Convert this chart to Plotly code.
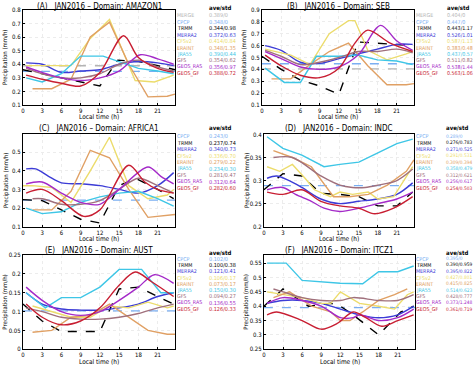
import plotly.graph_objects as go

W, H_PX = 474, 366
FONT = "Liberation Sans Narrow, DejaVu Sans Condensed, Arial Narrow, Arial"

SERIES = ["MERGE", "CPCP", "TRMM", "MERRA2", "CFSv2", "ERAINT", "JRA55", "GFS", "GEOS_RAS", "GEOS_GF"]
COLORS = {"MERGE": "#b4b4b4", "CPCP": "#7aaef2", "TRMM": "#000000", "MERRA2": "#3c3cd6",
          "CFSv2": "#ecdc6c", "ERAINT": "#e0a064", "JRA55": "#3ec6e6", "GFS": "#a0707c",
          "GEOS_RAS": "#a42ac8", "GEOS_GF": "#c81e32"}
LINEAR = {"TRMM", "CFSv2", "ERAINT", "JRA55"}
HX = [0.5, 3, 6, 9, 12, 15, 18, 21, 23.5]
X_TICKS = [0, 3, 6, 9, 12, 15, 18, 21]
X_RANGE = [0, 23.75]

# ---------------- Panel A: AMAZON1 ----------------
A_TITLE = "(A)   JAN2016 \u2013 Domain: AMAZON1"
A_MEAN = {"MERGE": 0.389, "CPCP": 0.348}
A_X = {"TRMM": [0, 3, 6, 9, 12, 14.8, 18, 21, 23.7],
       "MERRA2": HX,
       "CFSv2": [0.5, 4.5, 7.5, 10.5, 13.5, 17.5, 20.5, 23.5],
       "ERAINT": [1.5, 4.5, 7.5, 10.5, 13.5, 16.5, 19.5, 22.5, 23.7],
       "JRA55": [0.5, 3, 6, 9, 12.5, 15, 18, 21, 23.5],
       "GFS": HX,
       "GEOS_RAS": [0.5, 3, 6, 9, 12, 15, 18.3, 21, 23.5],
       "GEOS_GF": [0.5, 3, 6, 9, 12, 15.7, 18, 21, 23.5]}
A_Y = {"TRMM": [0.36, 0.33, 0.30, 0.27, 0.24, 0.43, 0.42, 0.39, 0.36],
       "MERRA2": [0.41, 0.40, 0.34, 0.35, 0.36, 0.40, 0.42, 0.41, 0.39],
       "CFSv2": [0.39, 0.39, 0.39, 0.59, 0.73, 0.28, 0.27, 0.32],
       "ERAINT": [0.22, 0.22, 0.29, 0.60, 0.71, 0.40, 0.16, 0.165, 0.18],
       "JRA55": [0.30, 0.27, 0.33, 0.46, 0.46, 0.42, 0.37, 0.35, 0.33],
       "GFS": [0.37, 0.33, 0.30, 0.30, 0.33, 0.40, 0.43, 0.38, 0.35],
       "GEOS_RAS": [0.38, 0.34, 0.30, 0.28, 0.30, 0.35, 0.47, 0.44, 0.40],
       "GEOS_GF": [0.32, 0.29, 0.26, 0.24, 0.34, 0.61, 0.45, 0.37, 0.34]}
A_STATS = ["0.389/0", "0.348/0", "0.344/0.98", "0.372/0.63", "0.414/0.84", "0.348/1.35",
           "0.390/0.44", "0.354/0.62", "0.356/0.97", "0.388/0.72"]

# ---------------- Panel B: SEB ----------------
B_TITLE = "(B)   JAN2016 \u2013 Domain: SEB"
B_MEAN = {"MERGE": 0.404, "CPCP": 0.447}
B_X = {"TRMM": [0, 3, 6, 9, 12, 15, 18, 21, 23.5],
       "MERRA2": HX,
       "CFSv2": [0.5, 4.5, 7.5, 10.5, 13.5, 14.5, 16.5, 19.5, 22.5, 23.5],
       "ERAINT": [1.5, 4.5, 7.5, 10.5, 13.5, 16.5, 19.5, 22.5, 23.7],
       "JRA55": [0.5, 3.5, 6, 8.5, 12, 15, 18, 21, 23.5],
       "GFS": HX,
       "GEOS_RAS": [0.5, 3, 6, 9, 12, 15, 18.5, 21, 23.5],
       "GEOS_GF": [0.5, 3, 6, 9, 12, 14.5, 16.5, 20, 23.5]}
B_Y = {"TRMM": [0.51, 0.40, 0.31, 0.26, 0.19, 0.63, 0.62, 0.61, 0.60],
       "MERRA2": [0.60, 0.56, 0.46, 0.45, 0.49, 0.53, 0.57, 0.61, 0.61],
       "CFSv2": [0.57, 0.52, 0.44, 0.70, 0.81, 0.81, 0.56, 0.48, 0.53, 0.55],
       "ERAINT": [0.32, 0.32, 0.44, 0.55, 0.62, 0.43, 0.27, 0.27, 0.28],
       "JRA55": [0.41, 0.29, 0.29, 0.51, 0.51, 0.52, 0.48, 0.47, 0.44],
       "GFS": [0.56, 0.51, 0.44, 0.46, 0.50, 0.55, 0.55, 0.57, 0.54],
       "GEOS_RAS": [0.55, 0.49, 0.42, 0.40, 0.42, 0.52, 0.77, 0.64, 0.56],
       "GEOS_GF": [0.52, 0.43, 0.35, 0.33, 0.41, 0.62, 0.73, 0.62, 0.55]}
B_STATS = ["0.404/0", "0.447/0", "0.443/1.17", "0.526/1.01", "0.587/1.13", "0.383/0.48",
           "0.437/0.57", "0.511/0.82", "0.538/1.44", "0.563/1.06"]

# ---------------- Panel C: AFRICA1 ----------------
C_TITLE = "(C)   JAN2016 \u2013 Domain: AFRICA1"
C_MEAN = {"CPCP": 0.243}
C_X = {"TRMM": [0, 3, 6, 9, 12, 15, 17.5, 21, 23.5],
       "MERRA2": [0.5, 2, 4, 6, 9, 12, 15, 18, 21, 23.5],
       "CFSv2": [0, 1.5, 4.5, 7.5, 10.5, 13.5, 16.5, 19.5, 22.5, 23.5],
       "ERAINT": [1.5, 4.5, 7.5, 10.5, 13.5, 16.5, 19.5, 22.5, 23.7],
       "JRA55": HX,
       "GFS": [1.5, 3, 6, 9, 12, 15, 18, 21, 23.5],
       "GEOS_RAS": [0.5, 3, 6, 9, 12, 15, 19.5, 21.5, 23.5],
       "GEOS_GF": [0.5, 3, 6, 9.5, 12, 16.5, 19, 21, 23.5]}
C_Y = {"TRMM": [0.245, 0.24, 0.19, 0.14, 0.12, 0.32, 0.36, 0.30, 0.25],
       "MERRA2": [0.41, 0.41, 0.37, 0.335, 0.33, 0.32, 0.30, 0.28, 0.32, 0.39],
       "CFSv2": [0.32, 0.32, 0.31, 0.23, 0.40, 0.58, 0.32, 0.25, 0.27, 0.30],
       "ERAINT": [0.19, 0.19, 0.29, 0.51, 0.47, 0.30, 0.15, 0.16, 0.165],
       "JRA55": [0.20, 0.17, 0.18, 0.23, 0.26, 0.28, 0.29, 0.25, 0.21],
       "GFS": [0.25, 0.25, 0.22, 0.22, 0.24, 0.30, 0.36, 0.32, 0.28],
       "GEOS_RAS": [0.33, 0.34, 0.28, 0.23, 0.22, 0.30, 0.42, 0.37, 0.33],
       "GEOS_GF": [0.28, 0.30, 0.24, 0.155, 0.19, 0.43, 0.34, 0.30, 0.28]}
C_STATS = ["0.243/0", "0.237/0.74", "0.340/0.73", "0.336/0.70", "0.279/0.22",
           "0.234/0.30", "0.281/0.47", "0.312/0.64", "0.282/0.60"]

# ---------------- Panel D: INDC ----------------
D_TITLE = "(D)   JAN2016 \u2013 Domain: INDC"
D_MEAN = {"CPCP": 0.289}
D_X = {"TRMM": [0, 3, 6, 9, 12, 15, 18, 21, 23.5],
       "MERRA2": [0.5, 2, 4, 6, 9, 12, 15, 18, 21, 23.5],
       "CFSv2": [0.5, 2.5, 4.5, 6.5, 8, 10.5, 12, 14, 16.5, 18, 20.5, 23.5],
       "ERAINT": [1.5, 4.5, 7.5, 11, 13.5, 16.5, 19.5, 22.5, 23.7],
       "JRA55": [0.5, 3, 6, 9.5, 12, 15, 18, 21, 23.5],
       "GFS": [1.5, 4.5, 9, 12, 14, 16, 18, 21, 23.5],
       "GEOS_RAS": [0.5, 3, 5, 7.5, 9.5, 12, 15, 18, 21, 23.5],
       "GEOS_GF": [0.5, 3, 6, 9, 12, 15, 17.5, 20.5, 23.5]}
D_Y = {"TRMM": [0.28, 0.315, 0.31, 0.272, 0.27, 0.265, 0.245, 0.245, 0.275],
       "MERRA2": [0.305, 0.31, 0.30, 0.285, 0.26, 0.25, 0.255, 0.26, 0.27, 0.295],
       "CFSv2": [0.33, 0.32, 0.335, 0.305, 0.28, 0.265, 0.275, 0.27, 0.275, 0.26, 0.265, 0.33],
       "ERAINT": [0.365, 0.35, 0.33, 0.265, 0.265, 0.27, 0.29, 0.32, 0.345],
       "JRA55": [0.395, 0.37, 0.355, 0.33, 0.335, 0.34, 0.36, 0.38, 0.39],
       "GFS": [0.35, 0.35, 0.31, 0.29, 0.285, 0.285, 0.29, 0.30, 0.325],
       "GEOS_RAS": [0.28, 0.285, 0.27, 0.255, 0.24, 0.233, 0.24, 0.25, 0.26, 0.275],
       "GEOS_GF": [0.275, 0.27, 0.28, 0.255, 0.245, 0.24, 0.228, 0.24, 0.265]}
D_STATS = ["0.289/0", "0.276/0.783", "0.271/0.525", "0.291/0.531", "0.309/0.394",
           "0.358/0.479", "0.312/0.621", "0.256/0.617", "0.254/0.503"]

# ---------------- Panel E: AUST ----------------
E_TITLE = "(E)   JAN2016 \u2013 Domain: AUST"
E_MEAN = {"CPCP": 0.102}
E_X = {"TRMM": [0, 3, 6, 9, 12, 15, 18, 21, 23.5],
       "MERRA2": HX,
       "CFSv2": [1.5, 4.5, 7.5, 10.5, 13.5, 16.5, 19.5, 22.5, 23.5],
       "ERAINT": [1.5, 4.5, 7.5, 10.5, 13.5, 16.5, 19.5, 22.5, 23.7],
       "JRA55": [0.5, 3.5, 6, 9, 12, 15, 18.5, 21.5, 23.5],
       "GFS": HX,
       "GEOS_RAS": [0.5, 3, 6, 9, 12, 15, 18, 20.5, 23.5],
       "GEOS_GF": [0.5, 3, 6, 9, 12, 15, 17.5, 20, 23.5]}
E_Y = {"TRMM": [0.12, 0.075, 0.047, 0.047, 0.047, 0.16, 0.165, 0.14, 0.12],
       "MERRA2": [0.15, 0.12, 0.107, 0.104, 0.104, 0.11, 0.12, 0.14, 0.15],
       "CFSv2": [0.115, 0.10, 0.085, 0.085, 0.115, 0.11, 0.125, 0.11, 0.115],
       "ERAINT": [0.045, 0.05, 0.085, 0.09, 0.12, 0.085, 0.05, 0.04, 0.04],
       "JRA55": [0.15, 0.11, 0.137, 0.137, 0.165, 0.212, 0.212, 0.15, 0.15],
       "GFS": [0.11, 0.10, 0.085, 0.08, 0.08, 0.085, 0.095, 0.11, 0.12],
       "GEOS_RAS": [0.165, 0.13, 0.10, 0.09, 0.10, 0.13, 0.165, 0.198, 0.175],
       "GEOS_GF": [0.12, 0.085, 0.065, 0.075, 0.11, 0.17, 0.205, 0.18, 0.14]}
E_STATS = ["0.102/0", "0.100/0.38", "0.121/0.41", "0.106/0.17", "0.073/0.17",
           "0.150/0.30", "0.094/0.27", "0.136/0.55", "0.126/0.33"]

# ---------------- Panel F: ITCZ1 ----------------
F_TITLE = "(F)   JAN2016 \u2013 Domain: ITCZ1"
F_MEAN = {"CPCP": 0.395}
F_X = {"TRMM": [0, 3, 7, 10.5, 12, 14, 18, 21.5, 23.5],
       "MERRA2": HX,
       "CFSv2": [0.5, 3, 6, 9, 10.5, 12, 15, 18, 20.5, 22.5, 23.5],
       "ERAINT": [1.5, 4, 7.5, 10.5, 12, 13.5, 15.5, 18, 20.5, 22.5],
       "JRA55": [0.5, 3.5, 6, 9, 12, 15.5, 18, 21, 23.5],
       "GFS": [1.5, 3, 6, 9, 12, 14, 18, 21, 23.5],
       "GEOS_RAS": [0.5, 3, 6, 9, 12, 14, 15, 18, 21, 23.5],
       "GEOS_GF": [0.5, 2, 6, 9, 11.5, 14, 16, 18.5, 21, 23.5]}
F_Y = {"TRMM": [0.40, 0.46, 0.40, 0.41, 0.40, 0.37, 0.30, 0.38, 0.40],
       "MERRA2": [0.41, 0.42, 0.42, 0.41, 0.39, 0.37, 0.36, 0.37, 0.40],
       "CFSv2": [0.45, 0.44, 0.43, 0.41, 0.41, 0.45, 0.41, 0.40, 0.39, 0.44, 0.45],
       "ERAINT": [0.43, 0.45, 0.40, 0.38, 0.35, 0.35, 0.38, 0.42, 0.44, 0.46],
       "JRA55": [0.55, 0.55, 0.49, 0.485, 0.48, 0.478, 0.52, 0.52, 0.54],
       "GFS": [0.46, 0.45, 0.43, 0.42, 0.42, 0.43, 0.42, 0.42, 0.44],
       "GEOS_RAS": [0.41, 0.43, 0.42, 0.40, 0.36, 0.36, 0.37, 0.35, 0.36, 0.39],
       "GEOS_GF": [0.37, 0.38, 0.35, 0.32, 0.34, 0.38, 0.36, 0.33, 0.35, 0.37]}
F_STATS = ["0.395/0", "0.390/0.959", "0.395/0.822", "0.427/0.801", "0.415/0.825",
           "0.514/0.623", "0.428/0.777", "0.373/1.248", "0.361/0.719"]

# ---------------- layout (pixel boxes) ----------------
PANELS = [
    dict(title=A_TITLE, mean=A_MEAN, xs=A_X, ys=A_Y, stats=A_STATS, yr=[0.1, 0.8], dt=0.1,
         box=(21, 174, 6, 103), ty=2.6, leg=(175, 207, 4, 11.7, 6.55, 5.5)),
    dict(title=B_TITLE, mean=B_MEAN, xs=B_X, ys=B_Y, stats=B_STATS, yr=[0.1, 0.9], dt=0.1,
         box=(261, 414, 6, 103), ty=2.6, leg=(415, 446, 4, 11.7, 6.55, 5.3)),
    dict(title=C_TITLE, mean=C_MEAN, xs=C_X, ys=C_Y, stats=C_STATS, yr=[0.1, 0.595], dt=0.1,
         box=(21, 174, 133, 227), ty=126.5, leg=(175, 207, 126, 135, 6.6, 5.5)),
    dict(title=D_TITLE, mean=D_MEAN, xs=D_X, ys=D_Y, stats=D_STATS, yr=[0.2, 0.4], dt=0.05,
         box=(263, 414, 133, 227), ty=126.5, leg=(415, 445, 126, 135, 6.6, 4.8)),
    dict(title=E_TITLE, mean=E_MEAN, xs=E_X, ys=E_Y, stats=E_STATS, yr=[0, 0.25], dt=0.05,
         box=(21, 174, 256, 352), ty=251.5, leg=(175, 207, 253, 259.5, 6.45, 5.5)),
    dict(title=F_TITLE, mean=F_MEAN, xs=F_X, ys=F_Y, stats=F_STATS, yr=[0.25, 0.578], dt=0.05,
         box=(263, 415, 256, 352), ty=251.5, leg=(415, 445, 253, 259.5, 6.45, 4.8)),
]

fig = go.Figure()
annotations = []
layout = {}

def px(x):
    return x / W

def py(y):
    return 1 - y / H_PX

for i, p in enumerate(PANELS):
    k = "" if i == 0 else str(i + 1)
    xa, ya = "x" + k, "y" + k
    x0, x1, y0, y1 = p["box"]
    common = dict(showline=True, mirror=True, linecolor="black", linewidth=1,
                  ticks="inside", ticklen=2, tickcolor="black",
                  showgrid=True, gridcolor="#ececec", griddash="dot", zeroline=False,
                  tickfont=dict(size=6, family=FONT, color="black"))
    layout["xaxis" + k] = dict(domain=[px(x0), px(x1)], anchor=ya, range=X_RANGE,
                               tickvals=X_TICKS, **common)
    layout["yaxis" + k] = dict(domain=[py(y1), py(y0)], anchor=xa, range=p["yr"], dtick=p["dt"],
                               tick0=0, **common)
    for name, m in p["mean"].items():
        fig.add_trace(go.Scatter(x=X_RANGE, y=[m, m], mode="lines", xaxis=xa, yaxis=ya,
                                 line=dict(color=COLORS[name], width=1.3, dash="dash"),
                                 showlegend=False, hoverinfo="skip"))
    for name in SERIES:
        if name not in p["ys"]:
            continue
        lin = name in LINEAR
        fig.add_trace(go.Scatter(x=p["xs"][name], y=p["ys"][name], mode="lines",
                                 xaxis=xa, yaxis=ya, showlegend=False,
                                 line=dict(color=COLORS[name], width=1.4,
                                           dash="dash" if name == "TRMM" else "solid",
                                           shape="linear" if lin else "spline",
                                           smoothing=0.9 if not lin else None)))
    annotations.append(dict(text=p["title"], x=px((x0 + x1) / 2), y=py(p["ty"]), xref="paper",
                            yref="paper", xanchor="center", yanchor="middle", showarrow=False,
                            borderpad=0, font=dict(size=8, family=FONT, color="black")))
    annotations.append(dict(text="Local time (h)", x=px((x0 + x1) / 2),
                            y=py(y1 + 12.5), xref="paper", yref="paper", xanchor="center",
                            yanchor="middle", showarrow=False, borderpad=0,
                            font=dict(size=6.5, family=FONT, color="black")))
    annotations.append(dict(text="Precipitation (mm/h)", x=px(x0 - 17.5), y=py((y0 + y1) / 2),
                            xref="paper", yref="paper", xanchor="center", yanchor="middle",
                            textangle=-90, showarrow=False, borderpad=0,
                            font=dict(size=6, family=FONT, color="black")))
    lx, vx, hy, ry, dy, vs = p["leg"]
    annotations.append(dict(text="<b>ave/std</b>", x=px(vx), y=py(hy), xref="paper", yref="paper",
                            xanchor="left", yanchor="middle", showarrow=False, borderpad=0,
                            font=dict(size=6, family=FONT, color="black")))
    names = [s for s in SERIES if s in p["mean"] or s in p["ys"]]
    for j, name in enumerate(names):
        yy = py(ry + j * dy)
        annotations.append(dict(text=name, x=px(lx), y=yy, xref="paper", yref="paper",
                                xanchor="left", yanchor="middle", showarrow=False, borderpad=0,
                                font=dict(size=5.3, family=FONT, color=COLORS[name])))
        annotations.append(dict(text=p["stats"][j], x=px(vx), y=yy, xref="paper", yref="paper",
                                xanchor="left", yanchor="middle", showarrow=False, borderpad=0,
                                font=dict(size=vs, family=FONT, color=COLORS[name])))

fig.update_layout(width=W, height=H_PX, margin=dict(l=0, r=0, t=0, b=0),
                  paper_bgcolor="white", plot_bgcolor="white", showlegend=False,
                  annotations=annotations, **layout)
fig.write_html("out.html", config={"displayModeBar": False},
               post_script="document.body.style.margin='0';")
